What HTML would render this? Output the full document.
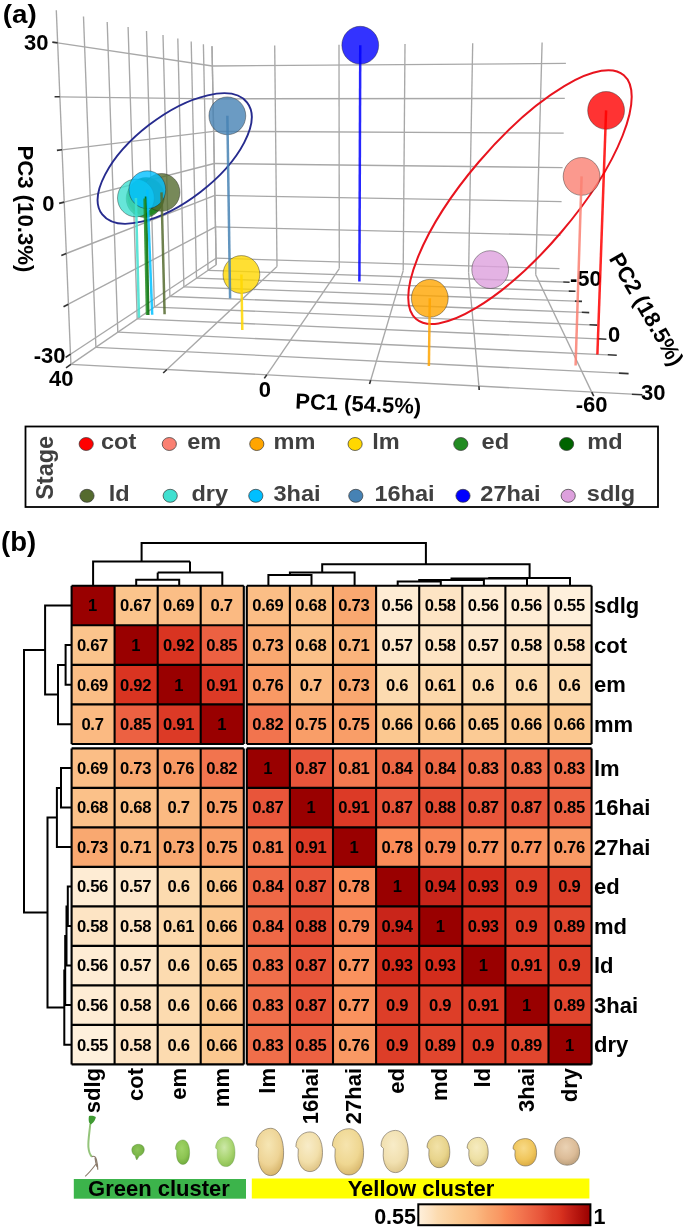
<!DOCTYPE html>
<html><head><meta charset="utf-8"><style>
html,body{margin:0;padding:0;background:#fff;overflow:hidden;}
svg{display:block;will-change:transform;font-family:"Liberation Sans",sans-serif;font-weight:bold;}
.g{stroke:#a8a8a8;stroke-width:1.35;}
.t{stroke:#333;stroke-width:1.6;}
.hn{font-size:16.6px;text-anchor:middle;fill:#000;letter-spacing:-0.3px;}
</style></head><body>
<svg width="685" height="1229" viewBox="0 0 685 1229">
<defs><linearGradient id="cbg" x1="0" x2="1" y1="0" y2="0"><stop offset="0.000" stop-color="#fef0dc"/><stop offset="0.067" stop-color="#fde4c4"/><stop offset="0.111" stop-color="#fcdbb0"/><stop offset="0.244" stop-color="#fbc890"/><stop offset="0.333" stop-color="#fbba82"/><stop offset="0.400" stop-color="#f9a870"/><stop offset="0.467" stop-color="#f99964"/><stop offset="0.511" stop-color="#fa8b58"/><stop offset="0.600" stop-color="#f2744e"/><stop offset="0.711" stop-color="#e8553a"/><stop offset="0.778" stop-color="#dd3e28"/><stop offset="0.800" stop-color="#dc3a26"/><stop offset="0.822" stop-color="#d93421"/><stop offset="0.844" stop-color="#d32c1c"/><stop offset="0.867" stop-color="#c9251a"/><stop offset="0.933" stop-color="#b2120c"/><stop offset="1.000" stop-color="#990000"/></linearGradient></defs>
<rect width="685" height="1229" fill="#fff"/>
<text x="2.5" y="23" font-size="26" transform="scale(1.07,1)">(a)</text>
<g><line class="g" x1="70.9" y1="364.4" x2="56.3" y2="10.3"/><line class="g" x1="95.9" y1="347.3" x2="83.5" y2="16.5"/><line class="g" x1="117.8" y1="332.2" x2="107.2" y2="22.0"/><line class="g" x1="137.2" y1="318.9" x2="128.1" y2="26.9"/><line class="g" x1="154.4" y1="307.1" x2="146.5" y2="31.1"/><line class="g" x1="169.9" y1="296.5" x2="163.0" y2="34.9"/><line class="g" x1="183.9" y1="286.9" x2="177.8" y2="38.4"/><line class="g" x1="196.5" y1="278.2" x2="191.2" y2="41.5"/><line class="g" x1="208.0" y1="270.3" x2="203.4" y2="44.3"/><line class="g" x1="216.2" y1="264.7" x2="212.0" y2="46.3"/><line class="g" x1="57.6" y1="42.9" x2="212.3" y2="66.0"/><line class="g" x1="59.8" y1="96.8" x2="213.0" y2="98.8"/><line class="g" x1="62.0" y1="149.8" x2="213.6" y2="131.3"/><line class="g" x1="64.2" y1="202.1" x2="214.2" y2="163.5"/><line class="g" x1="66.3" y1="253.5" x2="214.9" y2="195.4"/><line class="g" x1="68.4" y1="304.2" x2="215.5" y2="226.9"/><line class="g" x1="70.5" y1="354.2" x2="216.1" y2="258.2"/><line class="g" x1="216.2" y1="264.7" x2="212.0" y2="46.3"/><line class="g" x1="277.0" y1="266.6" x2="274.7" y2="45.5"/><line class="g" x1="339.3" y1="268.6" x2="339.0" y2="44.8"/><line class="g" x1="403.2" y1="270.6" x2="405.0" y2="44.0"/><line class="g" x1="468.6" y1="272.7" x2="472.7" y2="43.3"/><line class="g" x1="535.7" y1="274.8" x2="542.1" y2="42.5"/><line class="g" x1="212.3" y1="66.0" x2="565.9" y2="63.4"/><line class="g" x1="213.0" y1="98.8" x2="564.8" y2="98.4"/><line class="g" x1="213.6" y1="131.3" x2="563.7" y2="133.2"/><line class="g" x1="214.2" y1="163.5" x2="562.6" y2="167.6"/><line class="g" x1="214.9" y1="195.4" x2="561.6" y2="201.6"/><line class="g" x1="215.5" y1="226.9" x2="560.5" y2="235.3"/><line class="g" x1="216.1" y1="258.2" x2="559.5" y2="268.7"/><line class="g" x1="70.9" y1="364.4" x2="216.2" y2="264.7"/><line class="g" x1="166.9" y1="369.5" x2="277.0" y2="266.6"/><line class="g" x1="266.8" y1="374.8" x2="339.3" y2="268.6"/><line class="g" x1="370.7" y1="380.3" x2="403.2" y2="270.6"/><line class="g" x1="478.9" y1="386.1" x2="468.6" y2="272.7"/><line class="g" x1="591.7" y1="392.1" x2="535.7" y2="274.8"/><line class="g" x1="70.9" y1="364.4" x2="631.8" y2="394.2"/><line class="g" x1="95.9" y1="347.3" x2="618.9" y2="373.1"/><line class="g" x1="117.8" y1="332.2" x2="607.7" y2="354.8"/><line class="g" x1="137.2" y1="318.9" x2="598.0" y2="338.8"/><line class="g" x1="154.4" y1="307.1" x2="589.4" y2="324.8"/><line class="g" x1="169.9" y1="296.5" x2="581.7" y2="312.3"/><line class="g" x1="183.9" y1="286.9" x2="574.9" y2="301.1"/><line class="g" x1="196.5" y1="278.2" x2="568.7" y2="291.1"/><line class="g" x1="208.0" y1="270.3" x2="563.2" y2="282.0"/></g>
<g><line class="t" x1="57.6" y1="42.9" x2="52.3" y2="42.1"/><line class="t" x1="59.8" y1="96.8" x2="54.6" y2="96.7"/><line class="t" x1="62.0" y1="149.8" x2="56.9" y2="150.4"/><line class="t" x1="64.2" y1="202.1" x2="59.1" y2="203.4"/><line class="t" x1="66.3" y1="253.5" x2="61.3" y2="255.5"/><line class="t" x1="68.4" y1="304.2" x2="63.5" y2="306.8"/><line class="t" x1="70.5" y1="354.2" x2="65.6" y2="357.4"/><line class="t" x1="70.9" y1="364.4" x2="66.0" y2="367.8"/><line class="t" x1="166.9" y1="369.5" x2="163.2" y2="373.0"/><line class="t" x1="266.8" y1="374.8" x2="264.3" y2="378.4"/><line class="t" x1="370.7" y1="380.3" x2="369.5" y2="384.1"/><line class="t" x1="478.9" y1="386.1" x2="479.2" y2="390.0"/><line class="t" x1="591.7" y1="392.1" x2="593.7" y2="396.2"/><line class="t" x1="631.8" y1="394.2" x2="642.3" y2="394.8"/><line class="t" x1="618.9" y1="373.1" x2="628.6" y2="373.6"/><line class="t" x1="607.7" y1="354.8" x2="616.8" y2="355.2"/><line class="t" x1="598.0" y1="338.8" x2="606.4" y2="339.2"/><line class="t" x1="589.4" y1="324.8" x2="597.3" y2="325.1"/><line class="t" x1="581.7" y1="312.3" x2="589.2" y2="312.6"/><line class="t" x1="574.9" y1="301.1" x2="582.0" y2="301.4"/><line class="t" x1="568.7" y1="291.1" x2="575.5" y2="291.3"/><line class="t" x1="563.2" y1="282.0" x2="569.6" y2="282.2"/></g>
<g font-size="22" fill="#000">
<text x="48.5" y="50" text-anchor="end">30</text>
<text x="54.5" y="211" text-anchor="end">0</text>
<text x="65.5" y="363" text-anchor="end">-30</text>
<text x="73.5" y="385.5" text-anchor="end">40</text>
<text x="271" y="397" text-anchor="end">0</text>
<text x="607.5" y="411.8" text-anchor="end">-60</text>
<text x="601.8" y="285.5" text-anchor="end">-50</text>
<text x="608" y="342">0</text>
<text x="641" y="399.5">30</text>
<text transform="translate(17.7,145.4) rotate(90)" font-size="22.2">PC3 (10.3%)</text>
<text transform="translate(295,408.5) rotate(2.5)">PC1 (54.5%)</text>
<text transform="translate(608.5,258.5) rotate(60)">PC2 (18.5%)</text>
</g>
<ellipse cx="174.7" cy="158.5" rx="91.55" ry="42.23" transform="rotate(-37.67 174.7 158.5)" fill="none" stroke="#262b8e" stroke-width="1.9"/>
<ellipse cx="519.97" cy="197.13" rx="160.16" ry="54.14" transform="rotate(-49.57 519.97 197.13)" fill="none" stroke="#e8141e" stroke-width="2"/>
<g><ellipse cx="360.25" cy="45.2" rx="18.4" ry="18.9" fill="#0000ff" fill-opacity="0.8" stroke="#222" stroke-width="0.6" stroke-opacity="0.7"/><ellipse cx="227.35" cy="115.85" rx="18.4" ry="18.9" fill="#4682b4" fill-opacity="0.8" stroke="#222" stroke-width="0.6" stroke-opacity="0.7"/><ellipse cx="241.4" cy="274.5" rx="18.4" ry="18.9" fill="#ffd700" fill-opacity="0.8" stroke="#222" stroke-width="0.6" stroke-opacity="0.7"/><ellipse cx="490.2" cy="269.6" rx="18.4" ry="18.9" fill="#dda0dd" fill-opacity="0.8" stroke="#222" stroke-width="0.6" stroke-opacity="0.7"/><ellipse cx="429.8" cy="298.3" rx="18.4" ry="18.9" fill="#ffa500" fill-opacity="0.8" stroke="#222" stroke-width="0.6" stroke-opacity="0.7"/><ellipse cx="606.1" cy="110.4" rx="18.4" ry="18.9" fill="#ff0000" fill-opacity="0.8" stroke="#222" stroke-width="0.6" stroke-opacity="0.7"/><ellipse cx="581.6" cy="176.4" rx="18.4" ry="18.9" fill="#fa8072" fill-opacity="0.8" stroke="#222" stroke-width="0.6" stroke-opacity="0.7"/><ellipse cx="146.0" cy="196.5" rx="18.4" ry="18.9" fill="#006400" fill-opacity="0.8" stroke="#222" stroke-width="0.6" stroke-opacity="0.7"/><ellipse cx="144.6" cy="198.5" rx="18.4" ry="18.9" fill="#228b22" fill-opacity="0.8" stroke="#222" stroke-width="0.6" stroke-opacity="0.7"/><ellipse cx="161.5" cy="192.4" rx="18.4" ry="18.9" fill="#556b2f" fill-opacity="0.8" stroke="#222" stroke-width="0.6" stroke-opacity="0.7"/><ellipse cx="135.9" cy="198.0" rx="18.4" ry="18.9" fill="#40e0d0" fill-opacity="0.8" stroke="#222" stroke-width="0.6" stroke-opacity="0.7"/><ellipse cx="147.3" cy="189.7" rx="18.4" ry="18.9" fill="#00bfff" fill-opacity="0.8" stroke="#222" stroke-width="0.6" stroke-opacity="0.7"/></g>
<g><line x1="360.25" y1="45.2" x2="359.4" y2="281.4" stroke="#0000ff" stroke-opacity="0.85" stroke-width="2.5"/><line x1="227.35" y1="115.85" x2="230.1" y2="298.4" stroke="#4682b4" stroke-opacity="0.85" stroke-width="2.5"/><line x1="241.4" y1="274.5" x2="242.3" y2="329.9" stroke="#ffd700" stroke-opacity="0.85" stroke-width="2.5"/><line x1="429.8" y1="298.3" x2="428.9" y2="366.1" stroke="#ffa500" stroke-opacity="0.85" stroke-width="2.5"/><line x1="606.1" y1="110.4" x2="597.4" y2="354.5" stroke="#ff0000" stroke-opacity="0.85" stroke-width="2.5"/><line x1="581.6" y1="176.4" x2="575.6" y2="365.5" stroke="#fa8072" stroke-opacity="0.85" stroke-width="2.5"/><line x1="146.0" y1="196.5" x2="148.3" y2="315" stroke="#006400" stroke-opacity="0.85" stroke-width="2.5"/><line x1="144.6" y1="198.5" x2="147.0" y2="315" stroke="#228b22" stroke-opacity="0.85" stroke-width="2.5"/><line x1="161.5" y1="192.4" x2="164.6" y2="314.2" stroke="#556b2f" stroke-opacity="0.85" stroke-width="2.5"/><line x1="135.9" y1="198.0" x2="139.0" y2="317.6" stroke="#40e0d0" stroke-opacity="0.85" stroke-width="2.5"/><line x1="147.3" y1="189.7" x2="152.2" y2="314.8" stroke="#00bfff" stroke-opacity="0.85" stroke-width="2.5"/></g>
<!-- legend -->
<rect x="25.5" y="426.5" width="632.5" height="80.5" fill="none" stroke="#000" stroke-width="1.8"/>
<text transform="translate(53.4,499.8) rotate(-90)" font-size="23.5" fill="#404040">Stage</text>
<g font-size="22" fill="#404040" stroke="#333" stroke-width="0.6">
</g>
<ellipse cx="86.2" cy="444.0" rx="7.1" ry="6.5" fill="#ff0000" stroke="#333" stroke-width="0.7"/><text transform="translate(101.0,449.2) scale(1.07,1)" font-size="22" fill="#404040">cot</text><ellipse cx="169.3" cy="444.0" rx="7.1" ry="6.5" fill="#fa8072" stroke="#333" stroke-width="0.7"/><text transform="translate(187.2,449.2) scale(1.07,1)" font-size="22" fill="#404040">em</text><ellipse cx="256.8" cy="444.0" rx="7.1" ry="6.5" fill="#ffa500" stroke="#333" stroke-width="0.7"/><text transform="translate(273.5,449.2) scale(1.07,1)" font-size="22" fill="#404040">mm</text><ellipse cx="355.1" cy="444.0" rx="7.1" ry="6.5" fill="#ffd700" stroke="#333" stroke-width="0.7"/><text transform="translate(372.3,449.2) scale(1.07,1)" font-size="22" fill="#404040">lm</text><ellipse cx="460.8" cy="444.0" rx="7.1" ry="6.5" fill="#228b22" stroke="#333" stroke-width="0.7"/><text transform="translate(481.6,449.2) scale(1.07,1)" font-size="22" fill="#404040">ed</text><ellipse cx="566.6" cy="444.0" rx="7.1" ry="6.5" fill="#006400" stroke="#333" stroke-width="0.7"/><text transform="translate(587.3,449.2) scale(1.07,1)" font-size="22" fill="#404040">md</text><ellipse cx="87.0" cy="495.8" rx="7.1" ry="6.5" fill="#556b2f" stroke="#333" stroke-width="0.7"/><text transform="translate(108.8,501) scale(1.07,1)" font-size="22" fill="#404040">ld</text><ellipse cx="170.2" cy="495.8" rx="7.1" ry="6.5" fill="#40e0d0" stroke="#333" stroke-width="0.7"/><text transform="translate(191.4,501) scale(1.07,1)" font-size="22" fill="#404040">dry</text><ellipse cx="255.8" cy="495.8" rx="7.1" ry="6.5" fill="#00bfff" stroke="#333" stroke-width="0.7"/><text transform="translate(273.5,501) scale(1.07,1)" font-size="22" fill="#404040">3hai</text><ellipse cx="355.8" cy="495.8" rx="7.1" ry="6.5" fill="#4682b4" stroke="#333" stroke-width="0.7"/><text transform="translate(374.5,501) scale(1.07,1)" font-size="22" fill="#404040">16hai</text><ellipse cx="463" cy="495.8" rx="7.1" ry="6.5" fill="#0000ff" stroke="#333" stroke-width="0.7"/><text transform="translate(480.3,501) scale(1.07,1)" font-size="22" fill="#404040">27hai</text><ellipse cx="568.2" cy="495.8" rx="7.1" ry="6.5" fill="#dda0dd" stroke="#333" stroke-width="0.7"/><text transform="translate(586.8,501) scale(1.07,1)" font-size="22" fill="#404040">sdlg</text>
<text x="1" y="550.5" font-size="27.5">(b)</text>
<g fill="none" stroke="#000" stroke-width="2"><polyline points="136.2,585.5 136.2,579.7 179.2,579.7 179.2,585.5"/><polyline points="157.7,579.7 157.7,572.6"/><polyline points="157.7,572.6 222.3,572.6 222.3,585.5"/><polyline points="190.0,572.6 190.0,561.5"/><polyline points="93.1,585.5 93.1,561.5 190.0,561.5"/><polyline points="268.4,585.5 268.4,575.0 311.5,575.0 311.5,585.5"/><polyline points="289.9,575.0 289.9,572.6 354.6,572.6 354.6,585.5"/><polyline points="397.7,585.5 397.7,581.5 440.8,581.5 440.8,585.5"/><polyline points="419.2,581.5 419.2,580.0 483.9,580.0 483.9,585.5"/><polyline points="451.5,580.0 451.5,578.6 527.0,578.6 527.0,585.5"/><polyline points="489.2,578.6 489.2,578.0 570.0,578.0 570.0,585.5"/><polyline points="322.2,572.6 322.2,564.2 529.6,564.2 529.6,578.0"/><polyline points="141.6,561.5 141.6,543.0 425.9,543.0 425.9,564.2"/><polyline points="71.5,645.1 65.6,645.1 65.6,684.7 71.5,684.7"/><polyline points="65.6,664.9 58.0,664.9 58.0,724.2 71.5,724.2"/><polyline points="71.5,605.6 45.1,605.6 45.1,694.6 58.0,694.6"/><polyline points="71.5,768.1 61.0,768.1 61.0,807.6 71.5,807.6"/><polyline points="61.0,787.9 56.9,787.9 56.9,847.1 71.5,847.1"/><polyline points="71.5,886.6 67.8,886.6 67.8,926.1 71.5,926.1"/><polyline points="67.8,906.4 66.5,906.4 66.5,965.6 71.5,965.6"/><polyline points="66.5,936.0 65.2,936.0 65.2,1005.1 71.5,1005.1"/><polyline points="65.2,970.6 64.3,970.6 64.3,1044.7 71.5,1044.7"/><polyline points="56.9,817.5 47.5,817.5 47.5,1007.6 64.3,1007.6"/><polyline points="45.1,650.1 24.0,650.1 24.0,912.6 47.5,912.6"/></g>
<g><rect x="71.6" y="585.8" width="43.0" height="39.5" fill="#990000"/><rect x="114.6" y="585.8" width="43.0" height="39.5" fill="#fbc48c"/><rect x="157.7" y="585.8" width="43.0" height="39.5" fill="#fbbe86"/><rect x="200.7" y="585.8" width="43.0" height="39.5" fill="#fbba82"/><rect x="246.8" y="585.8" width="43.1" height="39.5" fill="#fbbe86"/><rect x="289.9" y="585.8" width="43.1" height="39.5" fill="#fbc189"/><rect x="333.0" y="585.8" width="43.1" height="39.5" fill="#f9a870"/><rect x="376.1" y="585.8" width="43.1" height="39.5" fill="#feecd4"/><rect x="419.2" y="585.8" width="43.1" height="39.5" fill="#fde4c4"/><rect x="462.3" y="585.8" width="43.1" height="39.5" fill="#feecd4"/><rect x="505.4" y="585.8" width="43.1" height="39.5" fill="#feecd4"/><rect x="548.5" y="585.8" width="43.1" height="39.5" fill="#fef0dc"/><rect x="71.6" y="625.3" width="43.0" height="39.5" fill="#fbc48c"/><rect x="114.6" y="625.3" width="43.0" height="39.5" fill="#990000"/><rect x="157.7" y="625.3" width="43.0" height="39.5" fill="#d93421"/><rect x="200.7" y="625.3" width="43.0" height="39.5" fill="#ec6142"/><rect x="246.8" y="625.3" width="43.1" height="39.5" fill="#f9a870"/><rect x="289.9" y="625.3" width="43.1" height="39.5" fill="#fbc189"/><rect x="333.0" y="625.3" width="43.1" height="39.5" fill="#fab47c"/><rect x="376.1" y="625.3" width="43.1" height="39.5" fill="#fde8cc"/><rect x="419.2" y="625.3" width="43.1" height="39.5" fill="#fde4c4"/><rect x="462.3" y="625.3" width="43.1" height="39.5" fill="#fde8cc"/><rect x="505.4" y="625.3" width="43.1" height="39.5" fill="#fde4c4"/><rect x="548.5" y="625.3" width="43.1" height="39.5" fill="#fde4c4"/><rect x="71.6" y="664.9" width="43.0" height="39.5" fill="#fbbe86"/><rect x="114.6" y="664.9" width="43.0" height="39.5" fill="#d93421"/><rect x="157.7" y="664.9" width="43.0" height="39.5" fill="#990000"/><rect x="200.7" y="664.9" width="43.0" height="39.5" fill="#dc3a26"/><rect x="246.8" y="664.9" width="43.1" height="39.5" fill="#f99964"/><rect x="289.9" y="664.9" width="43.1" height="39.5" fill="#fbba82"/><rect x="333.0" y="664.9" width="43.1" height="39.5" fill="#f9a870"/><rect x="376.1" y="664.9" width="43.1" height="39.5" fill="#fcdbb0"/><rect x="419.2" y="664.9" width="43.1" height="39.5" fill="#fcd8ab"/><rect x="462.3" y="664.9" width="43.1" height="39.5" fill="#fcdbb0"/><rect x="505.4" y="664.9" width="43.1" height="39.5" fill="#fcdbb0"/><rect x="548.5" y="664.9" width="43.1" height="39.5" fill="#fcdbb0"/><rect x="71.6" y="704.4" width="43.0" height="39.5" fill="#fbba82"/><rect x="114.6" y="704.4" width="43.0" height="39.5" fill="#ec6142"/><rect x="157.7" y="704.4" width="43.0" height="39.5" fill="#dc3a26"/><rect x="200.7" y="704.4" width="43.0" height="39.5" fill="#990000"/><rect x="246.8" y="704.4" width="43.1" height="39.5" fill="#f2744e"/><rect x="289.9" y="704.4" width="43.1" height="39.5" fill="#f99e68"/><rect x="333.0" y="704.4" width="43.1" height="39.5" fill="#f99e68"/><rect x="376.1" y="704.4" width="43.1" height="39.5" fill="#fbc890"/><rect x="419.2" y="704.4" width="43.1" height="39.5" fill="#fbc890"/><rect x="462.3" y="704.4" width="43.1" height="39.5" fill="#fbcb95"/><rect x="505.4" y="704.4" width="43.1" height="39.5" fill="#fbc890"/><rect x="548.5" y="704.4" width="43.1" height="39.5" fill="#fbc890"/><rect x="71.6" y="748.4" width="43.0" height="39.5" fill="#fbbe86"/><rect x="114.6" y="748.4" width="43.0" height="39.5" fill="#f9a870"/><rect x="157.7" y="748.4" width="43.0" height="39.5" fill="#f99964"/><rect x="200.7" y="748.4" width="43.0" height="39.5" fill="#f2744e"/><rect x="246.8" y="748.4" width="43.1" height="39.5" fill="#990000"/><rect x="289.9" y="748.4" width="43.1" height="39.5" fill="#e8553a"/><rect x="333.0" y="748.4" width="43.1" height="39.5" fill="#f47a50"/><rect x="376.1" y="748.4" width="43.1" height="39.5" fill="#ee6846"/><rect x="419.2" y="748.4" width="43.1" height="39.5" fill="#ee6846"/><rect x="462.3" y="748.4" width="43.1" height="39.5" fill="#f06e4a"/><rect x="505.4" y="748.4" width="43.1" height="39.5" fill="#f06e4a"/><rect x="548.5" y="748.4" width="43.1" height="39.5" fill="#f06e4a"/><rect x="71.6" y="787.9" width="43.0" height="39.5" fill="#fbc189"/><rect x="114.6" y="787.9" width="43.0" height="39.5" fill="#fbc189"/><rect x="157.7" y="787.9" width="43.0" height="39.5" fill="#fbba82"/><rect x="200.7" y="787.9" width="43.0" height="39.5" fill="#f99e68"/><rect x="246.8" y="787.9" width="43.1" height="39.5" fill="#e8553a"/><rect x="289.9" y="787.9" width="43.1" height="39.5" fill="#990000"/><rect x="333.0" y="787.9" width="43.1" height="39.5" fill="#dc3a26"/><rect x="376.1" y="787.9" width="43.1" height="39.5" fill="#e8553a"/><rect x="419.2" y="787.9" width="43.1" height="39.5" fill="#e44d34"/><rect x="462.3" y="787.9" width="43.1" height="39.5" fill="#e8553a"/><rect x="505.4" y="787.9" width="43.1" height="39.5" fill="#e8553a"/><rect x="548.5" y="787.9" width="43.1" height="39.5" fill="#ec6142"/><rect x="71.6" y="827.4" width="43.0" height="39.5" fill="#f9a870"/><rect x="114.6" y="827.4" width="43.0" height="39.5" fill="#fab47c"/><rect x="157.7" y="827.4" width="43.0" height="39.5" fill="#f9a870"/><rect x="200.7" y="827.4" width="43.0" height="39.5" fill="#f99e68"/><rect x="246.8" y="827.4" width="43.1" height="39.5" fill="#f47a50"/><rect x="289.9" y="827.4" width="43.1" height="39.5" fill="#dc3a26"/><rect x="333.0" y="827.4" width="43.1" height="39.5" fill="#990000"/><rect x="376.1" y="827.4" width="43.1" height="39.5" fill="#fa8b58"/><rect x="419.2" y="827.4" width="43.1" height="39.5" fill="#f88556"/><rect x="462.3" y="827.4" width="43.1" height="39.5" fill="#fa925e"/><rect x="505.4" y="827.4" width="43.1" height="39.5" fill="#fa925e"/><rect x="548.5" y="827.4" width="43.1" height="39.5" fill="#f99964"/><rect x="71.6" y="866.9" width="43.0" height="39.5" fill="#feecd4"/><rect x="114.6" y="866.9" width="43.0" height="39.5" fill="#fde8cc"/><rect x="157.7" y="866.9" width="43.0" height="39.5" fill="#fcdbb0"/><rect x="200.7" y="866.9" width="43.0" height="39.5" fill="#fbc890"/><rect x="246.8" y="866.9" width="43.1" height="39.5" fill="#ee6846"/><rect x="289.9" y="866.9" width="43.1" height="39.5" fill="#e8553a"/><rect x="333.0" y="866.9" width="43.1" height="39.5" fill="#fa8b58"/><rect x="376.1" y="866.9" width="43.1" height="39.5" fill="#990000"/><rect x="419.2" y="866.9" width="43.1" height="39.5" fill="#c9251a"/><rect x="462.3" y="866.9" width="43.1" height="39.5" fill="#d32c1c"/><rect x="505.4" y="866.9" width="43.1" height="39.5" fill="#dd3e28"/><rect x="548.5" y="866.9" width="43.1" height="39.5" fill="#dd3e28"/><rect x="71.6" y="906.4" width="43.0" height="39.5" fill="#fde4c4"/><rect x="114.6" y="906.4" width="43.0" height="39.5" fill="#fde4c4"/><rect x="157.7" y="906.4" width="43.0" height="39.5" fill="#fcd8ab"/><rect x="200.7" y="906.4" width="43.0" height="39.5" fill="#fbc890"/><rect x="246.8" y="906.4" width="43.1" height="39.5" fill="#ee6846"/><rect x="289.9" y="906.4" width="43.1" height="39.5" fill="#e44d34"/><rect x="333.0" y="906.4" width="43.1" height="39.5" fill="#f88556"/><rect x="376.1" y="906.4" width="43.1" height="39.5" fill="#c9251a"/><rect x="419.2" y="906.4" width="43.1" height="39.5" fill="#990000"/><rect x="462.3" y="906.4" width="43.1" height="39.5" fill="#d32c1c"/><rect x="505.4" y="906.4" width="43.1" height="39.5" fill="#dd3e28"/><rect x="548.5" y="906.4" width="43.1" height="39.5" fill="#e1462e"/><rect x="71.6" y="945.9" width="43.0" height="39.5" fill="#feecd4"/><rect x="114.6" y="945.9" width="43.0" height="39.5" fill="#fde8cc"/><rect x="157.7" y="945.9" width="43.0" height="39.5" fill="#fcdbb0"/><rect x="200.7" y="945.9" width="43.0" height="39.5" fill="#fbcb95"/><rect x="246.8" y="945.9" width="43.1" height="39.5" fill="#f06e4a"/><rect x="289.9" y="945.9" width="43.1" height="39.5" fill="#e8553a"/><rect x="333.0" y="945.9" width="43.1" height="39.5" fill="#fa925e"/><rect x="376.1" y="945.9" width="43.1" height="39.5" fill="#d32c1c"/><rect x="419.2" y="945.9" width="43.1" height="39.5" fill="#d32c1c"/><rect x="462.3" y="945.9" width="43.1" height="39.5" fill="#990000"/><rect x="505.4" y="945.9" width="43.1" height="39.5" fill="#dc3a26"/><rect x="548.5" y="945.9" width="43.1" height="39.5" fill="#dd3e28"/><rect x="71.6" y="985.4" width="43.0" height="39.5" fill="#feecd4"/><rect x="114.6" y="985.4" width="43.0" height="39.5" fill="#fde4c4"/><rect x="157.7" y="985.4" width="43.0" height="39.5" fill="#fcdbb0"/><rect x="200.7" y="985.4" width="43.0" height="39.5" fill="#fbc890"/><rect x="246.8" y="985.4" width="43.1" height="39.5" fill="#f06e4a"/><rect x="289.9" y="985.4" width="43.1" height="39.5" fill="#e8553a"/><rect x="333.0" y="985.4" width="43.1" height="39.5" fill="#fa925e"/><rect x="376.1" y="985.4" width="43.1" height="39.5" fill="#dd3e28"/><rect x="419.2" y="985.4" width="43.1" height="39.5" fill="#dd3e28"/><rect x="462.3" y="985.4" width="43.1" height="39.5" fill="#dc3a26"/><rect x="505.4" y="985.4" width="43.1" height="39.5" fill="#990000"/><rect x="548.5" y="985.4" width="43.1" height="39.5" fill="#e1462e"/><rect x="71.6" y="1024.9" width="43.0" height="39.5" fill="#fef0dc"/><rect x="114.6" y="1024.9" width="43.0" height="39.5" fill="#fde4c4"/><rect x="157.7" y="1024.9" width="43.0" height="39.5" fill="#fcdbb0"/><rect x="200.7" y="1024.9" width="43.0" height="39.5" fill="#fbc890"/><rect x="246.8" y="1024.9" width="43.1" height="39.5" fill="#f06e4a"/><rect x="289.9" y="1024.9" width="43.1" height="39.5" fill="#ec6142"/><rect x="333.0" y="1024.9" width="43.1" height="39.5" fill="#f99964"/><rect x="376.1" y="1024.9" width="43.1" height="39.5" fill="#dd3e28"/><rect x="419.2" y="1024.9" width="43.1" height="39.5" fill="#e1462e"/><rect x="462.3" y="1024.9" width="43.1" height="39.5" fill="#dd3e28"/><rect x="505.4" y="1024.9" width="43.1" height="39.5" fill="#e1462e"/><rect x="548.5" y="1024.9" width="43.1" height="39.5" fill="#990000"/></g>
<g stroke="#000" stroke-width="2.1"><line x1="71.6" y1="585.8" x2="71.6" y2="744.0"/><line x1="114.6" y1="585.8" x2="114.6" y2="744.0"/><line x1="157.7" y1="585.8" x2="157.7" y2="744.0"/><line x1="200.7" y1="585.8" x2="200.7" y2="744.0"/><line x1="243.8" y1="585.8" x2="243.8" y2="744.0"/><line x1="71.6" y1="748.4" x2="71.6" y2="1064.4"/><line x1="114.6" y1="748.4" x2="114.6" y2="1064.4"/><line x1="157.7" y1="748.4" x2="157.7" y2="1064.4"/><line x1="200.7" y1="748.4" x2="200.7" y2="1064.4"/><line x1="243.8" y1="748.4" x2="243.8" y2="1064.4"/><line x1="246.8" y1="585.8" x2="246.8" y2="744.0"/><line x1="289.9" y1="585.8" x2="289.9" y2="744.0"/><line x1="333.0" y1="585.8" x2="333.0" y2="744.0"/><line x1="376.1" y1="585.8" x2="376.1" y2="744.0"/><line x1="419.2" y1="585.8" x2="419.2" y2="744.0"/><line x1="462.3" y1="585.8" x2="462.3" y2="744.0"/><line x1="505.4" y1="585.8" x2="505.4" y2="744.0"/><line x1="548.5" y1="585.8" x2="548.5" y2="744.0"/><line x1="591.6" y1="585.8" x2="591.6" y2="744.0"/><line x1="246.8" y1="748.4" x2="246.8" y2="1064.4"/><line x1="289.9" y1="748.4" x2="289.9" y2="1064.4"/><line x1="333.0" y1="748.4" x2="333.0" y2="1064.4"/><line x1="376.1" y1="748.4" x2="376.1" y2="1064.4"/><line x1="419.2" y1="748.4" x2="419.2" y2="1064.4"/><line x1="462.3" y1="748.4" x2="462.3" y2="1064.4"/><line x1="505.4" y1="748.4" x2="505.4" y2="1064.4"/><line x1="548.5" y1="748.4" x2="548.5" y2="1064.4"/><line x1="591.6" y1="748.4" x2="591.6" y2="1064.4"/><line x1="71.6" y1="585.8" x2="243.8" y2="585.8"/><line x1="71.6" y1="625.3" x2="243.8" y2="625.3"/><line x1="71.6" y1="664.9" x2="243.8" y2="664.9"/><line x1="71.6" y1="704.4" x2="243.8" y2="704.4"/><line x1="71.6" y1="744.0" x2="243.8" y2="744.0"/><line x1="71.6" y1="748.4" x2="243.8" y2="748.4"/><line x1="71.6" y1="787.9" x2="243.8" y2="787.9"/><line x1="71.6" y1="827.4" x2="243.8" y2="827.4"/><line x1="71.6" y1="866.9" x2="243.8" y2="866.9"/><line x1="71.6" y1="906.4" x2="243.8" y2="906.4"/><line x1="71.6" y1="945.9" x2="243.8" y2="945.9"/><line x1="71.6" y1="985.4" x2="243.8" y2="985.4"/><line x1="71.6" y1="1024.9" x2="243.8" y2="1024.9"/><line x1="71.6" y1="1064.4" x2="243.8" y2="1064.4"/><line x1="246.8" y1="585.8" x2="591.6" y2="585.8"/><line x1="246.8" y1="625.3" x2="591.6" y2="625.3"/><line x1="246.8" y1="664.9" x2="591.6" y2="664.9"/><line x1="246.8" y1="704.4" x2="591.6" y2="704.4"/><line x1="246.8" y1="744.0" x2="591.6" y2="744.0"/><line x1="246.8" y1="748.4" x2="591.6" y2="748.4"/><line x1="246.8" y1="787.9" x2="591.6" y2="787.9"/><line x1="246.8" y1="827.4" x2="591.6" y2="827.4"/><line x1="246.8" y1="866.9" x2="591.6" y2="866.9"/><line x1="246.8" y1="906.4" x2="591.6" y2="906.4"/><line x1="246.8" y1="945.9" x2="591.6" y2="945.9"/><line x1="246.8" y1="985.4" x2="591.6" y2="985.4"/><line x1="246.8" y1="1024.9" x2="591.6" y2="1024.9"/><line x1="246.8" y1="1064.4" x2="591.6" y2="1064.4"/></g>
<g><text class="hn" x="92.5" y="611.4">1</text><text class="hn" x="135.6" y="611.4">0.67</text><text class="hn" x="178.6" y="611.4">0.69</text><text class="hn" x="221.7" y="611.4">0.7</text><text class="hn" x="267.8" y="611.4">0.69</text><text class="hn" x="310.9" y="611.4">0.68</text><text class="hn" x="353.9" y="611.4">0.73</text><text class="hn" x="397.1" y="611.4">0.56</text><text class="hn" x="440.2" y="611.4">0.58</text><text class="hn" x="483.2" y="611.4">0.56</text><text class="hn" x="526.4" y="611.4">0.56</text><text class="hn" x="569.4" y="611.4">0.55</text><text class="hn" x="92.5" y="650.9">0.67</text><text class="hn" x="135.6" y="650.9">1</text><text class="hn" x="178.6" y="650.9">0.92</text><text class="hn" x="221.7" y="650.9">0.85</text><text class="hn" x="267.8" y="650.9">0.73</text><text class="hn" x="310.9" y="650.9">0.68</text><text class="hn" x="353.9" y="650.9">0.71</text><text class="hn" x="397.1" y="650.9">0.57</text><text class="hn" x="440.2" y="650.9">0.58</text><text class="hn" x="483.2" y="650.9">0.57</text><text class="hn" x="526.4" y="650.9">0.58</text><text class="hn" x="569.4" y="650.9">0.58</text><text class="hn" x="92.5" y="690.5">0.69</text><text class="hn" x="135.6" y="690.5">0.92</text><text class="hn" x="178.6" y="690.5">1</text><text class="hn" x="221.7" y="690.5">0.91</text><text class="hn" x="267.8" y="690.5">0.76</text><text class="hn" x="310.9" y="690.5">0.7</text><text class="hn" x="353.9" y="690.5">0.73</text><text class="hn" x="397.1" y="690.5">0.6</text><text class="hn" x="440.2" y="690.5">0.61</text><text class="hn" x="483.2" y="690.5">0.6</text><text class="hn" x="526.4" y="690.5">0.6</text><text class="hn" x="569.4" y="690.5">0.6</text><text class="hn" x="92.5" y="730.0">0.7</text><text class="hn" x="135.6" y="730.0">0.85</text><text class="hn" x="178.6" y="730.0">0.91</text><text class="hn" x="221.7" y="730.0">1</text><text class="hn" x="267.8" y="730.0">0.82</text><text class="hn" x="310.9" y="730.0">0.75</text><text class="hn" x="353.9" y="730.0">0.75</text><text class="hn" x="397.1" y="730.0">0.66</text><text class="hn" x="440.2" y="730.0">0.66</text><text class="hn" x="483.2" y="730.0">0.65</text><text class="hn" x="526.4" y="730.0">0.66</text><text class="hn" x="569.4" y="730.0">0.66</text><text class="hn" x="92.5" y="773.9">0.69</text><text class="hn" x="135.6" y="773.9">0.73</text><text class="hn" x="178.6" y="773.9">0.76</text><text class="hn" x="221.7" y="773.9">0.82</text><text class="hn" x="267.8" y="773.9">1</text><text class="hn" x="310.9" y="773.9">0.87</text><text class="hn" x="353.9" y="773.9">0.81</text><text class="hn" x="397.1" y="773.9">0.84</text><text class="hn" x="440.2" y="773.9">0.84</text><text class="hn" x="483.2" y="773.9">0.83</text><text class="hn" x="526.4" y="773.9">0.83</text><text class="hn" x="569.4" y="773.9">0.83</text><text class="hn" x="92.5" y="813.4">0.68</text><text class="hn" x="135.6" y="813.4">0.68</text><text class="hn" x="178.6" y="813.4">0.7</text><text class="hn" x="221.7" y="813.4">0.75</text><text class="hn" x="267.8" y="813.4">0.87</text><text class="hn" x="310.9" y="813.4">1</text><text class="hn" x="353.9" y="813.4">0.91</text><text class="hn" x="397.1" y="813.4">0.87</text><text class="hn" x="440.2" y="813.4">0.88</text><text class="hn" x="483.2" y="813.4">0.87</text><text class="hn" x="526.4" y="813.4">0.87</text><text class="hn" x="569.4" y="813.4">0.85</text><text class="hn" x="92.5" y="852.9">0.73</text><text class="hn" x="135.6" y="852.9">0.71</text><text class="hn" x="178.6" y="852.9">0.73</text><text class="hn" x="221.7" y="852.9">0.75</text><text class="hn" x="267.8" y="852.9">0.81</text><text class="hn" x="310.9" y="852.9">0.91</text><text class="hn" x="353.9" y="852.9">1</text><text class="hn" x="397.1" y="852.9">0.78</text><text class="hn" x="440.2" y="852.9">0.79</text><text class="hn" x="483.2" y="852.9">0.77</text><text class="hn" x="526.4" y="852.9">0.77</text><text class="hn" x="569.4" y="852.9">0.76</text><text class="hn" x="92.5" y="892.4">0.56</text><text class="hn" x="135.6" y="892.4">0.57</text><text class="hn" x="178.6" y="892.4">0.6</text><text class="hn" x="221.7" y="892.4">0.66</text><text class="hn" x="267.8" y="892.4">0.84</text><text class="hn" x="310.9" y="892.4">0.87</text><text class="hn" x="353.9" y="892.4">0.78</text><text class="hn" x="397.1" y="892.4">1</text><text class="hn" x="440.2" y="892.4">0.94</text><text class="hn" x="483.2" y="892.4">0.93</text><text class="hn" x="526.4" y="892.4">0.9</text><text class="hn" x="569.4" y="892.4">0.9</text><text class="hn" x="92.5" y="931.9">0.58</text><text class="hn" x="135.6" y="931.9">0.58</text><text class="hn" x="178.6" y="931.9">0.61</text><text class="hn" x="221.7" y="931.9">0.66</text><text class="hn" x="267.8" y="931.9">0.84</text><text class="hn" x="310.9" y="931.9">0.88</text><text class="hn" x="353.9" y="931.9">0.79</text><text class="hn" x="397.1" y="931.9">0.94</text><text class="hn" x="440.2" y="931.9">1</text><text class="hn" x="483.2" y="931.9">0.93</text><text class="hn" x="526.4" y="931.9">0.9</text><text class="hn" x="569.4" y="931.9">0.89</text><text class="hn" x="92.5" y="971.4">0.56</text><text class="hn" x="135.6" y="971.4">0.57</text><text class="hn" x="178.6" y="971.4">0.6</text><text class="hn" x="221.7" y="971.4">0.65</text><text class="hn" x="267.8" y="971.4">0.83</text><text class="hn" x="310.9" y="971.4">0.87</text><text class="hn" x="353.9" y="971.4">0.77</text><text class="hn" x="397.1" y="971.4">0.93</text><text class="hn" x="440.2" y="971.4">0.93</text><text class="hn" x="483.2" y="971.4">1</text><text class="hn" x="526.4" y="971.4">0.91</text><text class="hn" x="569.4" y="971.4">0.9</text><text class="hn" x="92.5" y="1010.9">0.56</text><text class="hn" x="135.6" y="1010.9">0.58</text><text class="hn" x="178.6" y="1010.9">0.6</text><text class="hn" x="221.7" y="1010.9">0.66</text><text class="hn" x="267.8" y="1010.9">0.83</text><text class="hn" x="310.9" y="1010.9">0.87</text><text class="hn" x="353.9" y="1010.9">0.77</text><text class="hn" x="397.1" y="1010.9">0.9</text><text class="hn" x="440.2" y="1010.9">0.9</text><text class="hn" x="483.2" y="1010.9">0.91</text><text class="hn" x="526.4" y="1010.9">1</text><text class="hn" x="569.4" y="1010.9">0.89</text><text class="hn" x="92.5" y="1050.5">0.55</text><text class="hn" x="135.6" y="1050.5">0.58</text><text class="hn" x="178.6" y="1050.5">0.6</text><text class="hn" x="221.7" y="1050.5">0.66</text><text class="hn" x="267.8" y="1050.5">0.83</text><text class="hn" x="310.9" y="1050.5">0.85</text><text class="hn" x="353.9" y="1050.5">0.76</text><text class="hn" x="397.1" y="1050.5">0.9</text><text class="hn" x="440.2" y="1050.5">0.89</text><text class="hn" x="483.2" y="1050.5">0.9</text><text class="hn" x="526.4" y="1050.5">0.89</text><text class="hn" x="569.4" y="1050.5">1</text></g>
<g font-size="22" fill="#000"><text x="594" y="613.0">sdlg</text><text x="594" y="652.5">cot</text><text x="594" y="692.1">em</text><text x="594" y="731.6">mm</text><text x="594" y="775.5">lm</text><text x="594" y="815.0">16hai</text><text x="594" y="854.5">27hai</text><text x="594" y="894.0">ed</text><text x="594" y="933.5">md</text><text x="594" y="973.0">ld</text><text x="594" y="1012.5">3hai</text><text x="594" y="1052.1">dry</text><text transform="translate(99.6,1068) rotate(-90)" text-anchor="end">sdlg</text><text transform="translate(142.7,1068) rotate(-90)" text-anchor="end">cot</text><text transform="translate(185.7,1068) rotate(-90)" text-anchor="end">em</text><text transform="translate(228.8,1068) rotate(-90)" text-anchor="end">mm</text><text transform="translate(274.9,1068) rotate(-90)" text-anchor="end">lm</text><text transform="translate(318.0,1068) rotate(-90)" text-anchor="end">16hai</text><text transform="translate(361.1,1068) rotate(-90)" text-anchor="end">27hai</text><text transform="translate(404.2,1068) rotate(-90)" text-anchor="end">ed</text><text transform="translate(447.3,1068) rotate(-90)" text-anchor="end">md</text><text transform="translate(490.4,1068) rotate(-90)" text-anchor="end">ld</text><text transform="translate(533.5,1068) rotate(-90)" text-anchor="end">3hai</text><text transform="translate(576.5,1068) rotate(-90)" text-anchor="end">dry</text></g>
<defs><radialGradient id="s_lm" cx="0.45" cy="0.35" r="0.7"><stop offset="0" stop-color="#f6e6b4"/><stop offset="0.6" stop-color="#eed496"/><stop offset="1" stop-color="#d4b064"/></radialGradient><radialGradient id="s_16" cx="0.45" cy="0.35" r="0.7"><stop offset="0" stop-color="#f8ecc8"/><stop offset="0.6" stop-color="#f2dfaa"/><stop offset="1" stop-color="#dcc080"/></radialGradient><radialGradient id="s_27" cx="0.45" cy="0.35" r="0.7"><stop offset="0" stop-color="#f6e4ae"/><stop offset="0.6" stop-color="#efd792"/><stop offset="1" stop-color="#d6b468"/></radialGradient><radialGradient id="s_ed" cx="0.45" cy="0.35" r="0.7"><stop offset="0" stop-color="#f8ecc8"/><stop offset="0.6" stop-color="#f1e0b0"/><stop offset="1" stop-color="#dcc488"/></radialGradient><radialGradient id="s_md" cx="0.45" cy="0.35" r="0.7"><stop offset="0" stop-color="#f2e2a8"/><stop offset="0.6" stop-color="#e8d48c"/><stop offset="1" stop-color="#cfb668"/></radialGradient><radialGradient id="s_ld" cx="0.45" cy="0.35" r="0.7"><stop offset="0" stop-color="#f6ebc0"/><stop offset="0.6" stop-color="#eee0a4"/><stop offset="1" stop-color="#d6c282"/></radialGradient><radialGradient id="s_3h" cx="0.45" cy="0.35" r="0.7"><stop offset="0" stop-color="#f8da88"/><stop offset="0.6" stop-color="#f0c65c"/><stop offset="1" stop-color="#d8a840"/></radialGradient><radialGradient id="s_dr" cx="0.45" cy="0.35" r="0.7"><stop offset="0" stop-color="#ead2b4"/><stop offset="0.6" stop-color="#dcbc98"/><stop offset="1" stop-color="#b89c78"/></radialGradient><radialGradient id="g_cot" cx="0.45" cy="0.35" r="0.7"><stop offset="0" stop-color="#8cc458"/><stop offset="0.6" stop-color="#78b446"/><stop offset="1" stop-color="#5e9a34"/></radialGradient><radialGradient id="g_em" cx="0.45" cy="0.35" r="0.7"><stop offset="0" stop-color="#a0d468"/><stop offset="0.6" stop-color="#8cc452"/><stop offset="1" stop-color="#6ca83a"/></radialGradient><radialGradient id="g_mm" cx="0.45" cy="0.35" r="0.7"><stop offset="0" stop-color="#cce8a8"/><stop offset="0.6" stop-color="#a8d46e"/><stop offset="1" stop-color="#88bc50"/></radialGradient></defs><g><path d="M0.09,0.43 L0.0,0.37 C0.0,0.15 0.25,0.0 0.53,0.0 C0.82,0.0 1.0,0.22 1.0,0.52 C1.0,0.82 0.80,1.0 0.53,1.0 C0.26,1.0 0.09,0.82 0.08,0.60 Z" transform="translate(175.4,1140) scale(14.199999999999989,24.40000000000009)" fill="url(#g_em)" stroke="#5a8a40" stroke-width="0.4" vector-effect="non-scaling-stroke"/><path d="M0.09,0.43 L0.0,0.37 C0.0,0.15 0.25,0.0 0.53,0.0 C0.82,0.0 1.0,0.22 1.0,0.52 C1.0,0.82 0.80,1.0 0.53,1.0 C0.26,1.0 0.09,0.82 0.08,0.60 Z" transform="translate(215.6,1137) scale(19.400000000000006,29.59999999999991)" fill="url(#g_mm)" stroke="#6a9a50" stroke-width="0.4" vector-effect="non-scaling-stroke"/><path d="M0.09,0.43 L0.0,0.37 C0.0,0.15 0.25,0.0 0.53,0.0 C0.82,0.0 1.0,0.22 1.0,0.52 C1.0,0.82 0.80,1.0 0.53,1.0 C0.26,1.0 0.09,0.82 0.08,0.60 Z" transform="translate(256,1128.3) scale(27.600000000000023,47.299999999999955)" fill="url(#s_lm)" stroke="#6a6050" stroke-width="0.6" vector-effect="non-scaling-stroke"/><path d="M0.09,0.43 L0.0,0.37 C0.0,0.15 0.25,0.0 0.53,0.0 C0.82,0.0 1.0,0.22 1.0,0.52 C1.0,0.82 0.80,1.0 0.53,1.0 C0.26,1.0 0.09,0.82 0.08,0.60 Z" transform="translate(295.9,1131.9) scale(26.600000000000023,39.69999999999982)" fill="url(#s_16)" stroke="#6a6050" stroke-width="0.6" vector-effect="non-scaling-stroke"/><path d="M0.09,0.43 L0.0,0.37 C0.0,0.15 0.25,0.0 0.53,0.0 C0.82,0.0 1.0,0.22 1.0,0.52 C1.0,0.82 0.80,1.0 0.53,1.0 C0.26,1.0 0.09,0.82 0.08,0.60 Z" transform="translate(332.4,1128.7) scale(31.200000000000045,46.299999999999955)" fill="url(#s_27)" stroke="#6a6050" stroke-width="0.6" vector-effect="non-scaling-stroke"/><path d="M0.09,0.43 L0.0,0.37 C0.0,0.15 0.25,0.0 0.53,0.0 C0.82,0.0 1.0,0.22 1.0,0.52 C1.0,0.82 0.80,1.0 0.53,1.0 C0.26,1.0 0.09,0.82 0.08,0.60 Z" transform="translate(381,1130.4) scale(27.30000000000001,42.19999999999982)" fill="url(#s_ed)" stroke="#6a6050" stroke-width="0.6" vector-effect="non-scaling-stroke"/><path d="M0.09,0.43 L0.0,0.37 C0.0,0.15 0.25,0.0 0.53,0.0 C0.82,0.0 1.0,0.22 1.0,0.52 C1.0,0.82 0.80,1.0 0.53,1.0 C0.26,1.0 0.09,0.82 0.08,0.60 Z" transform="translate(427,1135.4) scale(22.80000000000001,32.299999999999955)" fill="url(#s_md)" stroke="#6a6050" stroke-width="0.6" vector-effect="non-scaling-stroke"/><path d="M0.09,0.43 L0.0,0.37 C0.0,0.15 0.25,0.0 0.53,0.0 C0.82,0.0 1.0,0.22 1.0,0.52 C1.0,0.82 0.80,1.0 0.53,1.0 C0.26,1.0 0.09,0.82 0.08,0.60 Z" transform="translate(467.1,1137.4) scale(21.099999999999966,28.59999999999991)" fill="url(#s_ld)" stroke="#6a6050" stroke-width="0.6" vector-effect="non-scaling-stroke"/><path d="M0.09,0.43 L0.0,0.37 C0.0,0.15 0.25,0.0 0.53,0.0 C0.82,0.0 1.0,0.22 1.0,0.52 C1.0,0.82 0.80,1.0 0.53,1.0 C0.26,1.0 0.09,0.82 0.08,0.60 Z" transform="translate(513,1138.6) scale(23.600000000000023,27.40000000000009)" fill="url(#s_3h)" stroke="#6a6050" stroke-width="0.6" vector-effect="non-scaling-stroke"/><path d="M0.5,0 C0.82,0 1.0,0.25 1.0,0.52 C1.0,0.82 0.78,1.0 0.5,1.0 C0.22,1.0 0.0,0.82 0.0,0.52 C0.0,0.25 0.18,0 0.5,0 Z" transform="translate(554.7,1137.4) scale(24.899999999999977,27.799999999999955)" fill="url(#s_dr)" stroke="#6a6050" stroke-width="0.6" vector-effect="non-scaling-stroke"/></g>
<path d="M131.8,1150 C131.8,1146.5 134.8,1144.3 138.3,1144.3 C141.8,1144.3 144.3,1146.5 144.3,1149.6 C144.3,1153 141.8,1155.4 139.2,1156 L136.8,1159.9 C135.6,1158.3 135.5,1156.8 135.2,1155.6 C133.2,1154.6 131.8,1152.6 131.8,1150 Z" fill="url(#g_cot)" stroke="#5a8a40" stroke-width="0.4"/>
<path d="M90.3,1124 C89.5,1132 88,1140 88.4,1147 C88.8,1152 90,1155 92,1156.7" stroke="#94c47a" stroke-width="2" fill="none"/>
<path d="M89,1116 C88.3,1119 88.6,1123 90.5,1124.5 C93,1123.5 95.5,1120 95.8,1117 C93.5,1115.5 91,1115.5 89,1116 Z" fill="#3f9a32"/>
<path d="M92,1156.7 C94,1155.5 96,1157 96.5,1160 C97.5,1164 97.8,1167 97.8,1169.8 M96,1164 C93,1168 89,1173 85.2,1176.3 M95,1158 C95.5,1162 96.2,1165 97,1167" stroke="#8a7a6a" stroke-width="1.1" fill="none"/>

<rect x="73.8" y="1179" width="172.2" height="19.7" fill="#3cb44b"/>
<text x="159" y="1196.3" font-size="22" text-anchor="middle">Green cluster</text>
<rect x="251.8" y="1178.5" width="337.6" height="20" fill="#ffff00"/>
<text x="421" y="1196" font-size="22" text-anchor="middle">Yellow cluster</text>
<rect x="418.3" y="1204.3" width="172.1" height="20.9" fill="url(#cbg)" stroke="#000" stroke-width="2"/>
<text x="416" y="1224.3" font-size="21.5" text-anchor="end">0.55</text>
<text x="593.5" y="1224.3" font-size="21.5">1</text>
</svg></body></html>
